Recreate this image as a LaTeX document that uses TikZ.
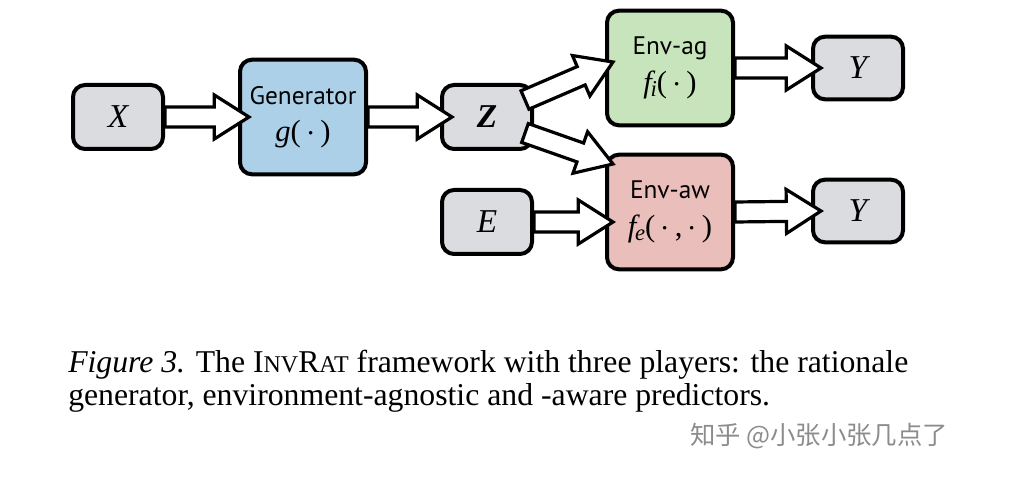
\documentclass[tikz,border=0pt]{standalone}
\usepackage{fontspec}
\setmainfont{Liberation Serif}
\newfontfamily\boxfont{PT Sans}
\newfontfamily\cjk{Noto Sans CJK SC}
\usetikzlibrary{calc}
\begin{document}
\begin{tikzpicture}[x=0.75pt,y=-0.75pt,
  box/.style={draw=black,line width=3pt,rounded corners=9pt,fill=#1,inner sep=0pt,align=center},
  gbox/.style={box=boxgray,minimum width=67.5pt,minimum height=48pt,font=\fontsize{25}{28}\selectfont\itshape},
  fbox/.style={box=#1,minimum width=94.5pt,minimum height=86pt,font=\boxfont\fontsize{19}{28}\selectfont},
  barrow/.style={draw=black,fill=white,line width=2.4pt,line join=miter}]
\definecolor{boxgray}{RGB}{218,220,224}
\definecolor{genblue}{RGB}{172,208,232}
\definecolor{aggreen}{RGB}{200,228,188}
\definecolor{awpink}{RGB}{234,190,186}
\newcommand\fn{\rmfamily\fontsize{23}{26}\selectfont}
\newcommand\blk[2]{\path[barrow] let \p1=(#1), \p2=(#2), \n1={atan2(\y2-\y1,\x2-\x1)}, \n2={veclen(\x2-\x1,\y2-\y1)} in {[shift={(\p1)},rotate=\n1] (0pt,-7.5pt) -- ({\n2-26pt},-7.5pt) -- ({\n2-26pt},-16.5pt) -- (\n2,0pt) -- ({\n2-26pt},16.5pt) -- ({\n2-26pt},7.5pt) -- (0pt,7.5pt) -- cycle};}
\useasboundingbox (0,0) rectangle (1017,477);
\node[gbox] (X) at (118,117) {X};
\node[fbox=genblue] (G) at (303,117) {Generator\\{\fn\itshape g}{\fn(\,$\cdot$\,)}};
\node[gbox,font=\fontsize{25}{28}\selectfont\bfseries\itshape] (Z) at (487,117) {Z};
\node[gbox] (E) at (487,222) {E};
\node[fbox=aggreen] (A) at (670,68) {Env-ag\\{\fn\itshape f\kern-1pt\raisebox{-3pt}{\fontsize{17}{17}\selectfont i}}{\fn(\,$\cdot$\,)}};
\node[fbox=awpink] (W) at (670,212) {Env-aw\\{\fn\itshape f\kern-1pt\raisebox{-3pt}{\fontsize{17}{17}\selectfont e}}{\fn(\,$\cdot$\,,\,$\cdot$\,)}};
\node[gbox,minimum height=47pt] (Y1) at (858,68) {Y};
\node[gbox,minimum height=47pt] (Y2) at (858,211) {Y};
\coordinate (x1) at (X.east); \coordinate (g1) at (249,117);
\coordinate (g2) at (G.east); \coordinate (z1) at (452,117);
\coordinate (z2) at (525,100); \coordinate (a1) at (613,62);
\coordinate (z3) at (525,133); \coordinate (w1) at (613,164);
\coordinate (e1) at (E.east); \coordinate (w2) at (613,222);
\coordinate (a2) at (A.east); \coordinate (y1) at (821,68);
\coordinate (w3) at (W.east); \coordinate (y2) at (821,211);
\blk{x1}{g1}\blk{g2}{z1}\blk{z2}{a1}\blk{z3}{w1}\blk{e1}{w2}\blk{a2}{y1}\blk{w3}{y2}
\node[anchor=base west,inner sep=0pt,font=\fontsize{23.8}{26}\selectfont] (c1) at (68,372) {\textit{Figure 3.} The I{\fontsize{18}{20}\selectfont NV}R{\fontsize{18}{20}\selectfont AT} framework with three players: the rationale};
\node[anchor=base west,inner sep=0pt,font=\fontsize{23.8}{26}\selectfont] (c2) at (68,405) {generator, environment-agnostic and -aware predictors.};
\node[anchor=base west,inner sep=0pt,text=black!45,font=\cjk\fontsize{19}{22}\selectfont] (wm) at (690,444) {知乎 @小张小张几点了};
\end{tikzpicture}
\end{document}
